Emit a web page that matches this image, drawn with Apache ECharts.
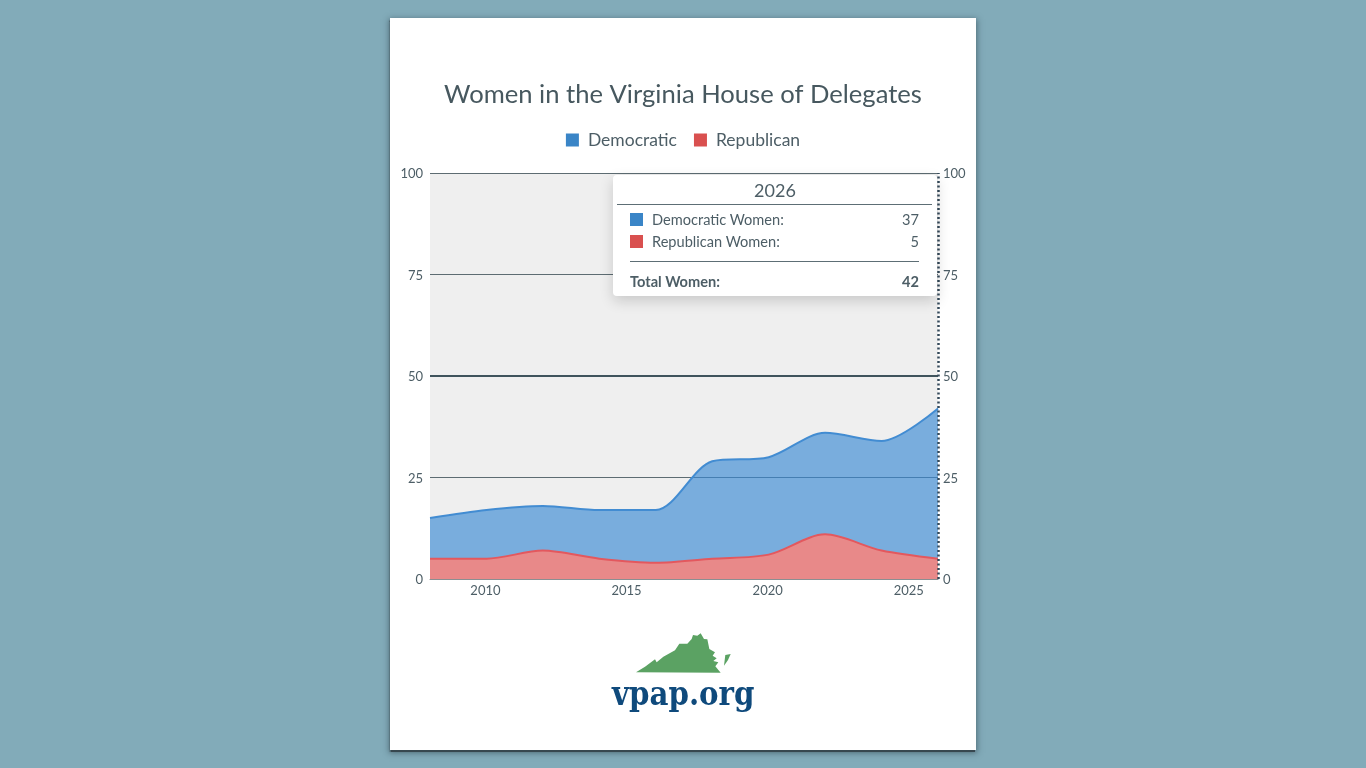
<!DOCTYPE html>
<html><head><meta charset="utf-8">
<style>
html,body{margin:0;padding:0;width:1366px;height:768px;overflow:hidden;background:#82abb9}
#card{position:absolute;left:390px;top:18px;width:586px;height:732px;background:#fff;box-shadow:-1.5px 1.5px 1px 0 #37474f,0 2px 6px 1px rgba(30,45,55,.5)}
#chart{position:absolute;left:0;top:0;width:1366px;height:768px}
.tip{font-family:Lato;color:#4d5e66;width:324px;height:121px;position:relative;font-size:14.6px}
.tip div{position:absolute;white-space:nowrap;line-height:18px}
.sw{width:13px;height:13px}
.rule{height:1px;background:#5d6e75}
</style></head><body>
<div id="card"></div><div id="chart"></div>
<script src="https://cdn.jsdelivr.net/npm/echarts@6/dist/echarts.min.js"></script>
<script>
const years=[2008,2010,2012,2014,2016,2018,2020,2022,2024,2026];
const democratic=[10,12,11,12,13,24,24,25,27,37];
const republican=[5,5,7,5,4,5,6,11,7,5];
const xTickLabels=[2010,2015,2020,2025];
const BLUE='#3a85c7',RED='#d9504f',TXT='#4d5e66',GRID='#5d6c72';
const LINE_B='#3c80bf',LINE_R='#cf5056',FILL_B='#347dbf',FILL_R='#cf4a4a';
const chart=echarts.init(document.getElementById('chart'),null,{renderer:'canvas'});
const pairs=a=>years.map((y,i)=>[a[i],y]);
const yax=(pos,m)=>({type:'value',position:pos,min:0,max:100,interval:25,
  axisLine:{show:false},axisTick:{show:false},
  axisLabel:{color:TXT,fontFamily:'Lato',fontSize:13,margin:m,verticalAlign:'top',lineHeight:2},
  splitLine:{show:pos==='left',lineStyle:{color:GRID,width:1.2}}});
chart.setOption({
  animation:false,
  textStyle:{fontFamily:'Lato'},
  title:{text:'Women in the Virginia House of Delegates',left:'center',top:77,
    textStyle:{color:'#47585f',fontFamily:'Lato',fontSize:25.6,fontWeight:'normal'}},
  legend:{top:126,left:'center',icon:'rect',itemWidth:13,itemHeight:13,itemGap:17,
    data:['Democratic','Republican'],selectedMode:false,
    textStyle:{color:TXT,fontFamily:'Lato',fontSize:17.5,padding:[0,0,0,4]}},
  grid:{left:430,top:173,width:508,height:406,show:true,backgroundColor:'#efefef',borderWidth:0},
  xAxis:{type:'value',min:2008,max:2026,
    axisLine:{show:true,onZero:false,lineStyle:{color:'#8a8f92',width:1}},axisTick:{show:false},splitLine:{show:false},
    axisLabel:{color:TXT,fontFamily:'Lato',fontSize:13,margin:5,padding:[0,2,0,0],customValues:xTickLabels,formatter:v=>String(v)}},
  yAxis:[yax('left',7),yax('right',5)],
  tooltip:{trigger:'axis',alwaysShowContent:true,showContent:true,transitionDuration:0,
    position:[613,175],padding:0,borderWidth:0,borderRadius:4,backgroundColor:'#fff',
    extraCssText:'box-shadow:0 5px 14px rgba(0,0,0,.16);',
    axisPointer:{type:'line',snap:true,z:20,lineStyle:{color:'#34495a',width:2.5,type:[2,2.5]},label:{show:false}},
    formatter:ps=>{
      const d=ps.find(p=>p.seriesName==='Democratic'),r=ps.find(p=>p.seriesName==='Republican');
      const dv=d.value[0],rv=r.value[0];
      return `<div class="tip">
      <div style="left:0;right:0;top:5px;text-align:center;font-size:18px;line-height:20px">${d.value[1]}</div>
      <div class="rule" style="left:4px;right:5px;top:29px"></div>
      <div class="sw" style="left:17px;top:38px;background:${BLUE}"></div>
      <div style="left:39px;top:36px">Democratic Women:</div><div style="right:18px;top:36px">${dv}</div>
      <div class="sw" style="left:17px;top:60px;background:${RED}"></div>
      <div style="left:39px;top:58px">Republican Women:</div><div style="right:18px;top:58px">${rv}</div>
      <div class="rule" style="left:17px;right:18px;top:86px"></div>
      <div style="left:17px;top:98px;font-weight:700">Total Women:</div><div style="right:18px;top:98px;font-weight:700">${dv+rv}</div>
      </div>`;}
  },
  series:[
    {name:'Republican',type:'line',stack:'w',data:pairs(republican),encode:{x:1,y:0},smooth:0.3,symbol:'none',
     color:RED,lineStyle:{color:LINE_R,width:2},areaStyle:{color:FILL_R,opacity:.65},z:3,
     markLine:{silent:true,symbol:'none',label:{show:false},animation:false,z:1,lineStyle:{color:'#3f535c',width:2,type:'solid'},data:[{yAxis:50}]}},
    {name:'Democratic',type:'line',stack:'w',data:pairs(democratic),encode:{x:1,y:0},smooth:0.3,symbol:'none',
     color:BLUE,lineStyle:{color:LINE_B,width:2},areaStyle:{color:FILL_B,opacity:.65},z:2}
  ],
  graphic:[
    {type:'polygon',position:[600,625],scaleX:1/3,scaleY:1/3,silent:true,style:{fill:'#5ba263'},
     shape:{points:[[108,142],[135,125],[165,103],[170,112],[190,95],[225,76],[238,56],[262,56],[275,42],[279,30],[292,32],[302,25],[312,42],[322,43],[328,72],[345,82],[338,92],[350,100],[340,108],[355,112],[346,124],[362,143]]}},
    {type:'polygon',position:[600,625],scaleX:1/3,scaleY:1/3,silent:true,style:{fill:'#5ba263'},
     shape:{points:[[376,90],[392,87],[384,105],[372,122]]}},
    {type:'text',x:612,y:680,scaleX:.887,silent:true,style:{text:'vpap.org',fill:'#0f4a7c',fontFamily:'DejaVu Serif',fontWeight:'bold',fontSize:33}}
  ]
});
chart.dispatchAction({type:'showTip',seriesIndex:0,dataIndex:years.length-1});
</script></body></html>
